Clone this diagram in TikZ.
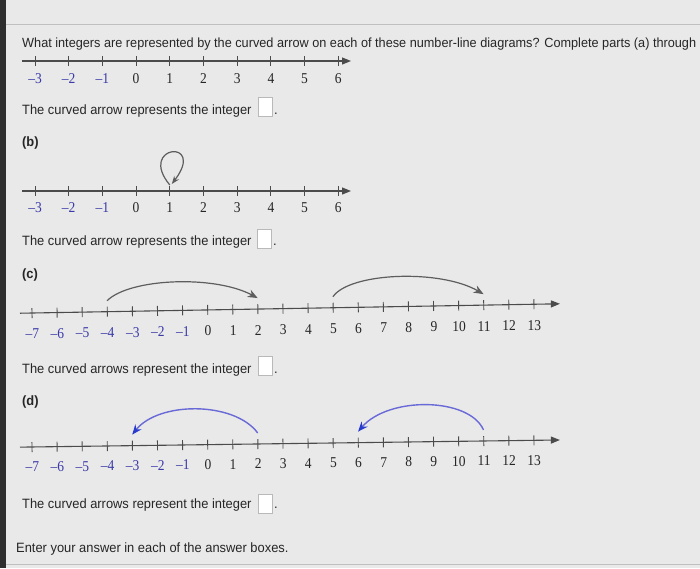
\documentclass[tikz,border=0pt]{standalone}
\usepackage{fontspec}
\setmainfont{Liberation Sans}[FakeStretch=0.955]
\newfontfamily\numfont{Liberation Serif}[FakeStretch=0.9]
\usetikzlibrary{arrows.meta}
\definecolor{bg}{RGB}{233,233,233}
\definecolor{txt}{RGB}{38,38,38}
\definecolor{neg}{RGB}{58,58,168}
\definecolor{axisc}{RGB}{75,75,75}
\definecolor{arcblue}{RGB}{105,105,215}
\definecolor{tipblue}{RGB}{40,60,205}
\newcommand\drawnumline[6]{% prefix, y, x0, dx, kmin, kmax ; label offset via \lbloff
  \foreach \k in {#5,...,#6}{%
    \pgfmathsetmacro\xx{#3+#4*(\k-(#5))}%
    \draw[tickline] (\xx,#2-5) -- (\xx,#2+5);
    \coordinate (#1t\k) at (\xx,#2-6);
    \ifnum\k<0
      \node[numlbl,text=neg] (#1l\k) at (\xx,#2+\lbloff) {–\the\numexpr-\k\relax};
    \else
      \node[numlbl,text=txt] (#1l\k) at (\xx,#2+\lbloff) {\k};
    \fi
  }%
}
\begin{document}
\begin{tikzpicture}[x=1pt,y=-1pt,
  txtnode/.style={anchor=base west, inner sep=0pt, text=txt, font=\fontsize{13.5}{16}\selectfont},
  partlbl/.style={anchor=base west, inner sep=0pt, text=txt, font=\fontsize{13.5}{16}\selectfont\bfseries},
  numlbl/.style={inner sep=0pt, font=\numfont\fontsize{15}{17}\selectfont},
  tickline/.style={draw=axisc, line width=0.9pt},
  axisline/.style={draw=axisc, line width=1.1pt, -{Triangle[length=9pt,width=7pt]}},
  ansbox/.style={draw=gray!55, fill=white, line width=0.8pt, minimum width=14pt, minimum height=19pt, inner sep=0pt},
  grayarc/.style={draw=axisc!90, line width=1.2pt, -{Stealth[length=10pt,width=8pt]}},
  bluearc/.style={draw=arcblue, line width=1.4pt, -{Stealth[length=10pt,width=8pt,color=tipblue]}},
]
\useasboundingbox (0,0) rectangle (700,568);
\fill[bg] (0,0) rectangle (700,568);
\fill[black!82] (0,0) rectangle (6,568);
\draw[gray!50, line width=0.8pt] (6,24) -- (700,24);
\draw[gray!50, line width=0.8pt] (6,564) -- (700,564);

% title
\node[txtnode, font=\fontsize{13.3}{16}\selectfont] (title) at (22,47) {What integers are represented by the curved arrow on each of these number-line diagrams? Complete parts (a) through};

% (a)
\def\lbloff{18}
\coordinate (aS) at (22,61); \coordinate (aE) at (351,61);
\draw[axisline] (aS) -- (aE);
\drawnumline{a}{61}{35}{33.7}{-3}{6}
\node[txtnode] (atext) at (22,114) {The curved arrow represents the integer};
\node[ansbox] (abox) at (265,107) {};
\node[txtnode] (adot) at (274,114) {.};

% (b)
\node[partlbl] (blbl) at (22,146) {(b)};
\def\lbloff{17}
\coordinate (bS) at (22,191); \coordinate (bE) at (351,191);
\draw[axisline] (bS) -- (bE);
\drawnumline{b}{191}{35}{33.7}{-3}{6}
\draw[line width=1.2pt, draw=axisc!90, -{Stealth[length=8pt,width=6pt]}] (bt1) .. controls +(-33,-40) and +(35,-46) .. ([xshift=2pt,yshift=1pt]bt1);
\node[txtnode] (btext) at (22,245) {The curved arrow represents the integer};
\node[ansbox] (bbox) at (264,239) {};
\node[txtnode] (bdot) at (273,245) {.};

% (c)
\node[partlbl] (clbl) at (22,278) {(c)};
\begin{scope}[rotate around={1:(32,313)}]
\def\lbloff{21}
\coordinate (cS) at (20,313); \coordinate (cE) at (560,313);
\draw[axisline] (cS) -- (cE);
\drawnumline{c}{313}{32}{25.1}{-7}{13}
\coordinate (c1a) at ([yshift=5pt]ct-4);
\coordinate (c1b) at ([yshift=5pt]ct2);
\coordinate (c2a) at ([yshift=5pt]ct5);
\coordinate (c2b) at ([yshift=5pt]ct11);
\draw[grayarc] (c1a) .. controls +(23,-22) and +(-43,-24) .. (c1b);
\draw[grayarc] (c2a) .. controls +(17,-24) and +(-43,-26) .. (c2b);
\end{scope}
\node[txtnode] (ctext) at (22,373) {The curved arrows represent the integer};
\node[ansbox] (cbox) at (265,366) {};
\node[txtnode] (cdot) at (274,373) {.};

% (d)
\node[partlbl] (dlbl) at (22,405) {(d)};
\begin{scope}[rotate around={0.76:(32,447)}]
\def\lbloff{20}
\coordinate (dS) at (20,447); \coordinate (dE) at (560,447);
\draw[axisline] (dS) -- (dE);
\drawnumline{d}{447}{32}{25.1}{-7}{13}
\coordinate (d1a) at ([yshift=5pt]dt2);
\coordinate (d1b) at ([yshift=5pt]dt-3);
\coordinate (d2a) at ([yshift=5pt]dt11);
\coordinate (d2b) at ([yshift=5pt]dt6);
\draw[bluearc] (d1a) .. controls +(-23,-32) and +(27,-33) .. (d1b);
\draw[bluearc] (d2a) .. controls +(-14,-33) and +(31,-35) .. (d2b);
\end{scope}
\node[txtnode] (dtext) at (22,508) {The curved arrows represent the integer};
\node[ansbox] (dbox) at (265,504) {};
\node[txtnode] (ddot) at (274,508) {.};

\node[txtnode] (enter) at (16,552) {Enter your answer in each of the answer boxes.};
\end{tikzpicture}
\end{document}
